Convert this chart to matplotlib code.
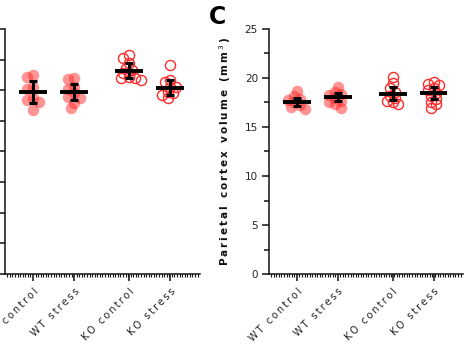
import numpy as np
import matplotlib
matplotlib.use("Agg")
import matplotlib.pyplot as plt
from matplotlib.ticker import MultipleLocator, FixedLocator

# ---------------- data ----------------
categories = ["WT control", "WT stress", "KO control", "KO stress"]
positions = [0, 1, 2.34, 3.34]

# left panel (partially visible, unlabeled axis)
left_wt_control = [65.0, 64.3, 61.0, 60.4, 57.5, 56.8, 56.2, 53.6]
left_wt_stress = [64.0, 63.8, 61.0, 60.5, 59.0, 57.8, 57.5, 55.8, 54.2]
left_ko_control = [70.5, 71.5, 68.9, 67.3, 66.6, 65.6, 64.3, 64.0, 64.0, 63.3]
left_ko_stress = [68.2, 63.3, 62.7, 61.1, 61.1, 59.4, 59.0, 58.4, 57.5]
left_means = [59.4, 59.4, 66.4, 60.8]
left_errors = [3.6, 2.5, 2.4, 2.4]

# right panel C: parietal cortex volume (mm3)
pc_wt_control = [18.7, 18.2, 17.9, 17.8, 17.5, 17.2, 17.0, 16.8]
pc_wt_stress = [19.1, 18.6, 18.4, 18.3, 18.0, 17.7, 17.6, 17.3, 16.9]
pc_ko_control = [20.1, 19.5, 19.0, 18.6, 18.2, 18.0, 17.7, 17.5, 17.3]
pc_ko_stress = [19.6, 19.4, 19.3, 19.0, 18.8, 18.5, 18.2, 17.9, 17.6, 17.3, 16.9]
pc_means = [17.55, 18.05, 18.4, 18.45]
pc_errors = [0.45, 0.43, 0.68, 0.63]

y_ticks_right = [0, 5, 10, 15, 20, 25]
filled = [True, True, False, False]

RED = "#ff2a2a"
DPI = 100
W, H = 474, 363

fig = plt.figure(figsize=(W / DPI, H / DPI), dpi=DPI)
fig.patch.set_facecolor("white")

def spaced(s, sp="\u2009"):
    return sp.join(list(s))

def swarm(ax, x0, vals, diam_px, overlap=0.5):
    """deterministic beeswarm placement in pixel space"""
    tr = ax.transData
    placed = []
    order = np.argsort(vals)[::-1]
    res = [None] * len(vals)
    step = diam_px * 0.25
    for i in order:
        px, py = tr.transform((x0, vals[i]))
        best = None
        for k in range(0, 60):
            for sgn in ([1] if k == 0 else [-1, 1]):
                cx = px + sgn * k * step
                ok = all(np.hypot(cx - qx, py - qy) >= diam_px * overlap for qx, qy in placed)
                if ok:
                    best = cx
                    break
            if best is not None:
                break
        placed.append((best, py))
        res[i] = tr.inverted().transform((best, py))[0]
    return res

def style_axes(ax, ylim, yticks_major, yticks_minor, show_ylabels):
    ax.set_xlim(-0.68, 4.06)
    ax.set_ylim(*ylim)
    for s in ["top", "right"]:
        ax.spines[s].set_visible(False)
    for s in ["left", "bottom"]:
        ax.spines[s].set_linewidth(1.1)
        ax.spines[s].set_color("#111111")
    ax.set_xticks(positions)
    ax.set_xticklabels([spaced(c) for c in categories], rotation=45, ha="right",
                       rotation_mode="anchor", fontsize=7, color="#222222", family="DejaVu Sans")
    ax.xaxis.set_minor_locator(MultipleLocator(1 / 16))
    ax.tick_params(axis="x", which="major", length=5, width=1.1, pad=4, color="#111111")
    ax.tick_params(axis="x", which="minor", length=2, width=0.8, color="#111111")
    ax.set_yticks(yticks_major)
    ax.yaxis.set_minor_locator(FixedLocator(yticks_minor))
    ax.tick_params(axis="y", which="major", length=5, width=1.1, pad=3, color="#111111",
                   labelsize=7.5, labelcolor="#222222")
    ax.tick_params(axis="y", which="minor", length=3.5, width=1.1, color="#111111")
    if not show_ylabels:
        ax.set_yticklabels([])

def draw_groups(ax, groups, means, errs):
    diam = 11.5
    ms = diam / DPI * 72
    for g, (vals, x0, m, e, f) in enumerate(zip(groups, positions, means, errs, filled)):
        xs = swarm(ax, x0, vals, diam, overlap=0.48)
        if f:
            ax.plot(xs, vals, "o", ms=ms, color=RED, alpha=0.5, mec="none", zorder=2)
        else:
            ax.plot(xs, vals, "o", ms=ms - 1, mfc="none", mec=RED, mew=1.0, zorder=2)
        ax.errorbar([x0], [m], yerr=[e], fmt="none", ecolor="black", elinewidth=2.2,
                    capsize=3, capthick=2.2, zorder=4)
        ax.hlines(m, x0 - 0.34, x0 + 0.34, colors="black", linewidth=2.8, zorder=4)

# Left panel (cut off at figure edge)
axL = fig.add_axes([5 / W, 1 - 274 / H, 195 / W, 245 / H])
style_axes(axL, (0, 80), [0, 20, 40, 60, 80], [10, 30, 50, 70], False)
axL.tick_params(axis="y", which="minor", length=5)
draw_groups(axL, [left_wt_control, left_wt_stress, left_ko_control, left_ko_stress],
            left_means, left_errors)

# Right panel C
axR = fig.add_axes([269 / W, 1 - 274 / H, 194 / W, 245 / H])
style_axes(axR, (0, 25), y_ticks_right, [2.5, 7.5, 12.5, 17.5, 22.5], True)
draw_groups(axR, [pc_wt_control, pc_wt_stress, pc_ko_control, pc_ko_stress],
            pc_means, pc_errors)

fig.text(225 / W, 1 - 151 / H, spaced("Parietal cortex volume (mm") + "\u2009" + "$^{3}$" + "\u2009)",
         rotation=90, ha="center", va="center", fontsize=7.5, fontweight="bold", color="#111111")
fig.text(217 / W, 1 - 17 / H, "C", fontsize=17, fontweight="bold", ha="center", va="center")

fig.savefig("out.png", dpi=DPI, facecolor="white")
